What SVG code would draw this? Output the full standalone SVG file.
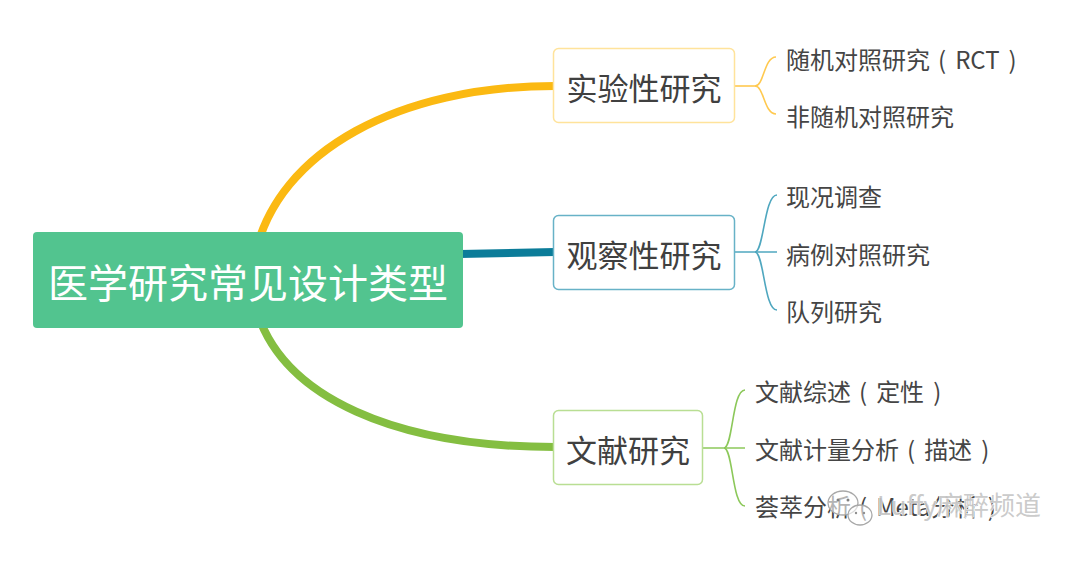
<svg xmlns="http://www.w3.org/2000/svg" width="1080" height="564" viewBox="0 0 1080 564">
<style>
.cjk{font-family:"Noto Sans CJK SC","Noto Sans",sans-serif;dominant-baseline:central}
.leaf{font-size:24px;fill:#454545}
.topic{font-size:31px;fill:#404040;text-anchor:middle}
.root{font-size:40px;fill:#ffffff;text-anchor:middle}
.main{fill:none;stroke-width:8;stroke-linecap:butt}
.sub{fill:none;stroke-width:1.6}
.box{fill:#ffffff;stroke-width:1.5}
</style>
<rect width="1080" height="564" fill="#ffffff"/>
<g id="connectors">
  <path class="main" stroke="#FBB912" d="M 255 255 C 278 150, 400 86, 555 86"/>
  <path class="main" stroke="#0B7C99" d="M 460 254 L 555 252"/>
  <path class="main" stroke="#84BE41" d="M 255 305 C 280 400, 400 447, 555 447"/>
  <g stroke="#FFC94F" class="sub">
    <path d="M 734 86 L 755 86"/>
    <path d="M 755 86 C 764 86, 764 57, 776 57"/>
    <path d="M 755 86 C 764 86, 764 114, 776 114"/>
  </g>
  <g stroke="#4FA7BF" class="sub">
    <path d="M 734 252 L 777 252"/>
    <path d="M 755 252 C 764 252, 764 195, 777 195"/>
    <path d="M 755 252 C 764 252, 764 310, 777 310"/>
  </g>
  <g stroke="#8CC85A" class="sub">
    <path d="M 703 448 L 745 448"/>
    <path d="M 724 448 C 733 448, 732 390, 745 390"/>
    <path d="M 724 448 C 733 448, 732 506, 745 506"/>
  </g>
</g>
<g id="root">
  <rect x="33" y="232" width="430" height="96" rx="4" fill="#52C48F"/>
  <text class="cjk root" x="248" y="281">医学研究常见设计类型</text>
</g>
<g id="n1">
  <rect class="box" x="553.5" y="48.5" width="181" height="74" rx="5" stroke="#FFE39B"/>
  <text class="cjk topic" x="644" y="86">实验性研究</text>
</g>
<g id="n2">
  <rect class="box" x="553.5" y="215.5" width="181" height="74" rx="5" stroke="#67B2C7"/>
  <text class="cjk topic" x="644" y="253">观察性研究</text>
</g>
<g id="n3">
  <rect class="box" x="553.5" y="410.5" width="149" height="74" rx="5" stroke="#B9DE93"/>
  <text class="cjk topic" x="628" y="448">文献研究</text>
</g>
<g id="n1a"><text class="cjk leaf" x="786" y="58">随机对照研究<tspan dx="8">(</tspan><tspan dx="9">RCT</tspan><tspan dx="9">)</tspan></text></g>
<g id="n1b"><text class="cjk leaf" x="786" y="115">非随机对照研究</text></g>
<g id="n2a"><text class="cjk leaf" x="786" y="195">现况调查</text></g>
<g id="n2b"><text class="cjk leaf" x="786" y="253">病例对照研究</text></g>
<g id="n2c"><text class="cjk leaf" x="786" y="310">队列研究</text></g>
<g id="n3a"><text class="cjk leaf" x="755" y="390">文献综述<tspan dx="8">(</tspan><tspan dx="9">定性</tspan><tspan dx="9">)</tspan></text></g>
<g id="n3b"><text class="cjk leaf" x="755" y="448">文献计量分析<tspan dx="8">(</tspan><tspan dx="9">描述</tspan><tspan dx="9">)</tspan></text></g>
<g id="n3c"><text class="cjk leaf" x="755" y="505">荟萃分析<tspan dx="8">(</tspan><tspan dx="9">Meta分析</tspan><tspan dx="9">)</tspan></text></g>
<g id="watermark">
  <ellipse cx="843" cy="503" rx="15" ry="12" fill="#ffffff" fill-opacity="0.6" stroke="#a8a8a8" stroke-width="1.3"/>
  <ellipse cx="860" cy="515" rx="12" ry="10" fill="#ffffff" fill-opacity="0.6" stroke="#a8a8a8" stroke-width="1.3"/>
  <circle cx="838" cy="500" r="1.5" fill="#808080"/>
  <circle cx="848" cy="500" r="1.5" fill="#808080"/>
  <circle cx="856" cy="513" r="1.2" fill="#909090"/>
  <circle cx="864" cy="513" r="1.2" fill="#909090"/>
  <text x="877" y="515" font-family="'Noto Sans CJK SC',sans-serif" font-size="26" fill="#c4c4c4" fill-opacity="0.9" stroke="#ffffff" stroke-width="1" paint-order="stroke">Luffy麻醉频道</text>
</g>
</svg>
